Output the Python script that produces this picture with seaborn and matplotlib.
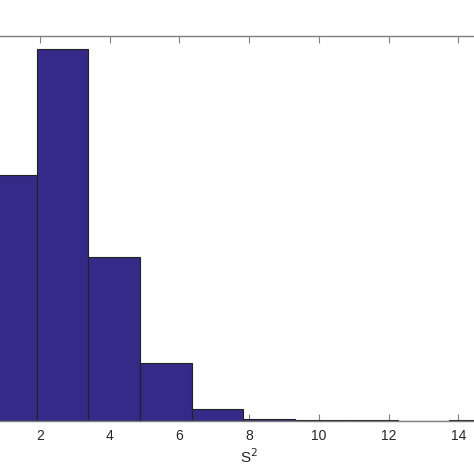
import matplotlib
matplotlib.use("Agg")
import matplotlib.pyplot as plt
import seaborn as sns
import numpy as np

# Data (histogram of S^2)
bin_edges = [0.43, 1.91, 3.39, 4.87, 6.35, 7.83, 9.31, 10.79, 12.27, 13.75, 15.23]
counts = [2560, 3860, 1700, 600, 125, 18, 15, 10, 0, 10]
x_ticks = [2, 4, 6, 8, 10, 12, 14]
x_label = "S$^2$"

sns.set_style("white")
plt.rcParams['font.family'] = ['Liberation Sans', 'DejaVu Sans']

centers = [(bin_edges[i] + bin_edges[i + 1]) / 2 for i in range(len(counts))]

fig = plt.figure(figsize=(4.74, 4.74), dpi=100)
W = 474.0
ax = fig.add_axes([-29.7 / W, 53 / W, 557.6 / W, 385 / W])

sns.histplot(x=centers, weights=counts, bins=bin_edges, ax=ax,
             color="#352A87", edgecolor="#222222", linewidth=0.8,
             alpha=1.0, stat="count")

ax.set_xlim(0, 16)
ax.set_ylim(0, 4000)
ax.set_xticks(x_ticks)
ax.set_yticks([])
ax.set_ylabel("")
ax.set_xlabel(x_label, fontsize=11, color="#262626", labelpad=3)
ax.tick_params(axis="x", direction="in", length=5, width=0.8, color="#7f7f7f",
               top=True, bottom=True, labelsize=10, labelcolor="#262626", pad=6)
for s in ax.spines.values():
    s.set_color("#7f7f7f")
    s.set_linewidth(1.0)
    s.set_visible(True)

fig.savefig("out.png", dpi=100)
